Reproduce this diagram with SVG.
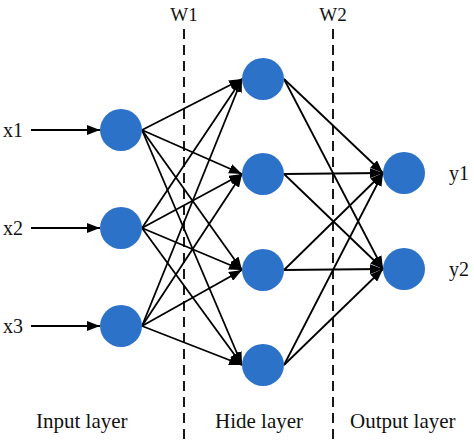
<svg xmlns="http://www.w3.org/2000/svg" width="474" height="443" viewBox="0 0 474 443">
<style>
.node{fill:#2b72c8}
.c{stroke:#000;stroke-width:1.8;fill:none;marker-end:url(#ah)}
.d{stroke:#000;stroke-width:1.8;stroke-dasharray:10,6;fill:none}
text{font-family:"Liberation Serif","Times New Roman",serif;fill:#111}
.lb{font-size:20px}
.ly{font-size:21px}
.w{font-size:19px}
</style>
<defs>
<marker id="ah" markerUnits="userSpaceOnUse" markerWidth="13" markerHeight="10" refX="13" refY="5" orient="auto">
<path d="M0,0 L13,5 L0,10 z" fill="#000"/>
</marker>
</defs>
<rect width="474" height="443" fill="#fff"/>
<g id="dividers">
<line class="d" x1="184" y1="29" x2="184" y2="443"/>
<line class="d" x1="333" y1="29" x2="333" y2="443"/>
<text class="w" x="184" y="21" text-anchor="middle">W1</text>
<text class="w" x="333" y="21" text-anchor="middle">W2</text>
</g>
<g id="connectors">
<line class="c" x1="31" y1="130" x2="100" y2="130"/>
<line class="c" x1="31" y1="228" x2="100" y2="228"/>
<line class="c" x1="31" y1="326" x2="100" y2="326"/>
<line class="c" x1="142" y1="130" x2="242" y2="79"/>
<line class="c" x1="142" y1="130" x2="242" y2="174"/>
<line class="c" x1="142" y1="130" x2="242" y2="270"/>
<line class="c" x1="142" y1="130" x2="242" y2="365"/>
<line class="c" x1="142" y1="228" x2="242" y2="79"/>
<line class="c" x1="142" y1="228" x2="242" y2="174"/>
<line class="c" x1="142" y1="228" x2="242" y2="270"/>
<line class="c" x1="142" y1="228" x2="242" y2="365"/>
<line class="c" x1="142" y1="326" x2="242" y2="79"/>
<line class="c" x1="142" y1="326" x2="242" y2="174"/>
<line class="c" x1="142" y1="326" x2="242" y2="270"/>
<line class="c" x1="142" y1="326" x2="242" y2="365"/>
<line class="c" x1="284" y1="79" x2="383" y2="173"/>
<line class="c" x1="284" y1="79" x2="383" y2="269"/>
<line class="c" x1="284" y1="174" x2="383" y2="173"/>
<line class="c" x1="284" y1="174" x2="383" y2="269"/>
<line class="c" x1="284" y1="270" x2="383" y2="173"/>
<line class="c" x1="284" y1="270" x2="383" y2="269"/>
<line class="c" x1="284" y1="365" x2="383" y2="173"/>
<line class="c" x1="284" y1="365" x2="383" y2="269"/>
</g>
<g id="in1"><circle class="node" cx="121" cy="130" r="21"/><text class="lb" x="3" y="137">x1</text></g>
<g id="in2"><circle class="node" cx="121" cy="228" r="21"/><text class="lb" x="3" y="235">x2</text></g>
<g id="in3"><circle class="node" cx="121" cy="326" r="21"/><text class="lb" x="3" y="333">x3</text></g>
<g id="h1"><circle class="node" cx="263" cy="79" r="21"/></g>
<g id="h2"><circle class="node" cx="263" cy="174" r="21"/></g>
<g id="h3"><circle class="node" cx="263" cy="270" r="21"/></g>
<g id="h4"><circle class="node" cx="263" cy="365" r="21"/></g>
<g id="out1"><circle class="node" cx="404" cy="173" r="21"/><text class="lb" x="449" y="180">y1</text></g>
<g id="out2"><circle class="node" cx="404" cy="269" r="21"/><text class="lb" x="449" y="276">y2</text></g>
<g id="layer-labels">
<text class="ly" x="36" y="428">Input layer</text>
<text class="ly" x="215" y="428">Hide layer</text>
<text class="ly" x="350" y="428">Output layer</text>
</g>
</svg>
